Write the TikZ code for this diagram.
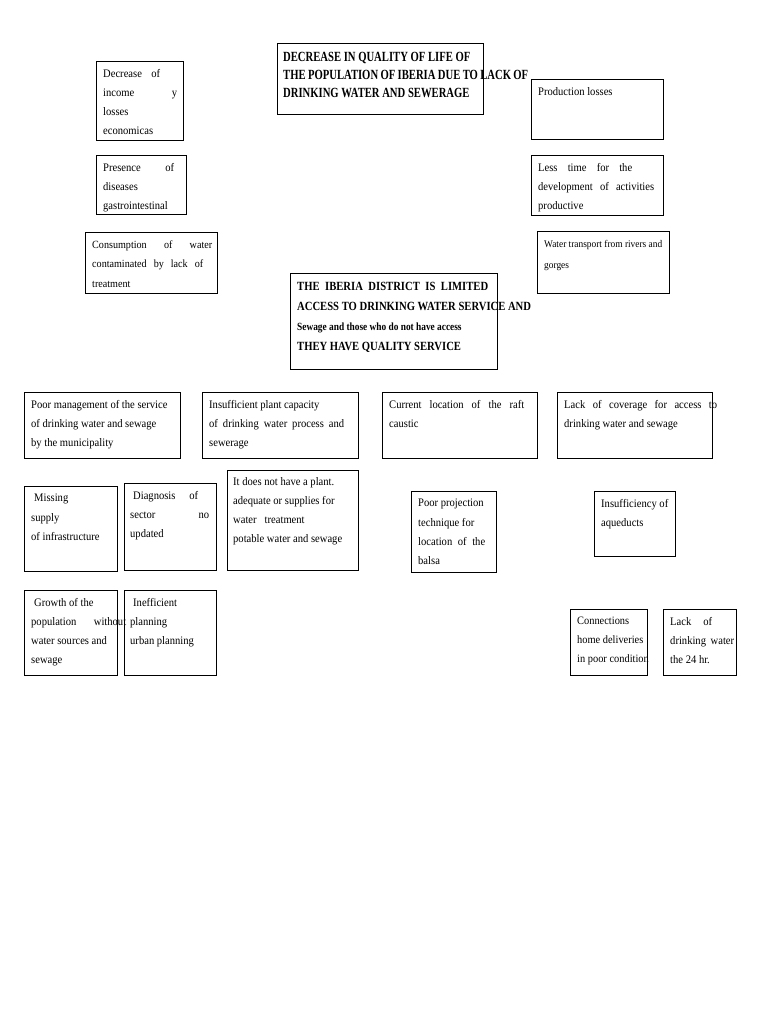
\documentclass[tikz,border=0pt]{standalone}
\usepackage{fontspec}
\setmainfont{Liberation Serif}[FakeStretch=0.92]
\newfontfamily\titlefont{Liberation Serif}[FakeStretch=0.76]
\newfontfamily\midfont{Liberation Serif}[FakeStretch=0.85]
\usetikzlibrary{calc}
\tikzset{
  box/.style={draw=black, line width=0.9pt, anchor=north west, inner sep=0pt},
  txt/.style={anchor=north west, inner sep=0pt, align=left, font=\fontsize{11.5}{19.2}\selectfont},
  smalltxt/.style={txt, font=\fontsize{11}{19.5}\selectfont},
  tinytxt/.style={txt, font=\fontsize{10.2}{20.5}\selectfont},
  narrowtxt/.style={txt, font=\fontsize{11.3}{18.8}\selectfont},
  titletxt/.style={txt, font=\titlefont\bfseries\fontsize{14}{18}\selectfont},
  ibertxt/.style={txt, font=\midfont\bfseries\fontsize{12.5}{19.7}\selectfont},
}
\begin{document}
\begin{tikzpicture}[x=1pt,y=-1pt]
\useasboundingbox[fill=white] (0,0) rectangle (768,1024);

% top effect
\node[box, minimum width=206pt, minimum height=71pt] (title) at (277,43) {};
\node[titletxt] (title-t) at ($(title.north west)+(6,9.5)$)
  {DECREASE IN QUALITY OF LIFE OF\\\makebox[245pt][s]{THE POPULATION OF IBERIA DUE TO LACK OF}\\DRINKING WATER AND SEWERAGE};

% left effects
\node[box, minimum width=87pt, minimum height=79pt] (dec) at (96,61) {};
\node[txt] (dec-t) at ($(dec.north west)+(7,8)$)
  {\makebox[57pt][s]{Decrease of}\\\makebox[74pt][s]{income y}\\losses\\economicas};

\node[box, minimum width=90pt, minimum height=59pt] (pres) at (96,155) {};
\node[txt] (pres-t) at ($(pres.north west)+(7,8)$)
  {\makebox[71pt][s]{Presence of}\\diseases\\gastrointestinal};

\node[box, minimum width=132pt, minimum height=61pt] (cons) at (85,232) {};
\node[smalltxt] (cons-t) at ($(cons.north west)+(7,8.5)$)
  {\makebox[120pt][s]{Consumption of water}\\\makebox[111pt][s]{contaminated by lack of}\\treatment};

% right effects
\node[box, minimum width=132pt, minimum height=60pt] (prod) at (531,79) {};
\node[txt] (prod-t) at ($(prod.north west)+(7,8)$) {Production losses};

\node[box, minimum width=132pt, minimum height=60pt] (less) at (531,155) {};
\node[txt] (less-t) at ($(less.north west)+(7,8)$)
  {\makebox[94pt][s]{Less time for the}\\\makebox[116pt][s]{development of activities}\\productive};

\node[box, minimum width=132pt, minimum height=62pt] (wtr) at (537,231) {};
\node[tinytxt] (wtr-t) at ($(wtr.north west)+(7,9.5)$)
  {Water transport from rivers and\\gorges};

% central problem
\node[box, minimum width=207pt, minimum height=96pt] (iber) at (290,273) {};
\node[ibertxt] (iber-t) at ($(iber.north west)+(7,9.5)$)
  {\makebox[191pt][s]{THE IBERIA DISTRICT IS LIMITED}\\ACCESS TO DRINKING WATER SERVICE AND\\{\fontsize{11}{19.7}\selectfont Sewage and those who do not have access}\\THEY HAVE QUALITY SERVICE};

% causes, first row
\node[box, minimum width=156pt, minimum height=66pt] (pm) at (24,392) {};
\node[txt] (pm-t) at ($(pm.north west)+(7,8)$)
  {Poor management of the service\\of drinking water and sewage\\by the municipality};

\node[box, minimum width=156pt, minimum height=66pt] (ipc) at (202,392) {};
\node[txt] (ipc-t) at ($(ipc.north west)+(7,8)$)
  {Insufficient plant capacity\\\makebox[135pt][s]{of drinking water process and}\\sewerage};

\node[box, minimum width=155pt, minimum height=66pt] (cur) at (382,392) {};
\node[txt] (cur-t) at ($(cur.north west)+(7,8)$)
  {\makebox[135pt][s]{Current location of the raft}\\caustic};

\node[box, minimum width=155pt, minimum height=66pt] (lac) at (557,392) {};
\node[txt] (lac-t) at ($(lac.north west)+(7,8)$)
  {\makebox[153pt][s]{Lack of coverage for access to}\\drinking water and sewage};

% causes, second row
\node[box, minimum width=93pt, minimum height=85pt] (mis) at (24,486) {};
\node[txt] (mis-t) at ($(mis.north west)+(7,8)$)
  {\hspace{3pt}Missing\\supply\\of infrastructure};

\node[box, minimum width=92pt, minimum height=87pt] (dia) at (124,483) {};
\node[txt] (dia-t) at ($(dia.north west)+(6,8)$)
  {\makebox[68pt][s]{\hspace{3pt}Diagnosis of}\\\makebox[79pt][s]{sector no}\\updated};

\node[box, minimum width=131pt, minimum height=100pt] (idn) at (227,470) {};
\node[txt] (idn-t) at ($(idn.north west)+(6,7)$)
  {It does not have a plant.\\adequate or supplies for\\water\hspace{8pt}treatment\\potable water and sewage};

\node[box, minimum width=85pt, minimum height=81pt] (ppt) at (411,491) {};
\node[txt] (ppt-t) at ($(ppt.north west)+(7,8)$)
  {Poor projection\\technique for\\\makebox[67pt][s]{location of the}\\balsa};

\node[box, minimum width=81pt, minimum height=65pt] (insa) at (594,491) {};
\node[txt] (insa-t) at ($(insa.north west)+(7,8)$)
  {Insufficiency of\\aqueducts};

% causes, third row
\node[box, minimum width=93pt, minimum height=85pt] (gro) at (24,590) {};
\node[txt] (gro-t) at ($(gro.north west)+(7,8)$)
  {\hspace{3pt}Growth of the\\\makebox[95pt][s]{population without}\\water sources and\\sewage};

\node[box, minimum width=92pt, minimum height=85pt] (ine) at (124,590) {};
\node[txt] (ine-t) at ($(ine.north west)+(6,8)$)
  {\hspace{3pt}Inefficient\\planning\\urban planning};

\node[box, minimum width=77pt, minimum height=66pt] (con) at (570,609) {};
\node[narrowtxt] (con-t) at ($(con.north west)+(7,8)$)
  {Connections\\home deliveries\\in poor condition};

\node[box, minimum width=73pt, minimum height=66pt] (lod) at (663,609) {};
\node[txt] (lod-t) at ($(lod.north west)+(7,8)$)
  {\makebox[42pt][s]{Lack of}\\\makebox[64pt][s]{drinking water}\\the 24 hr.};
\end{tikzpicture}
\end{document}
